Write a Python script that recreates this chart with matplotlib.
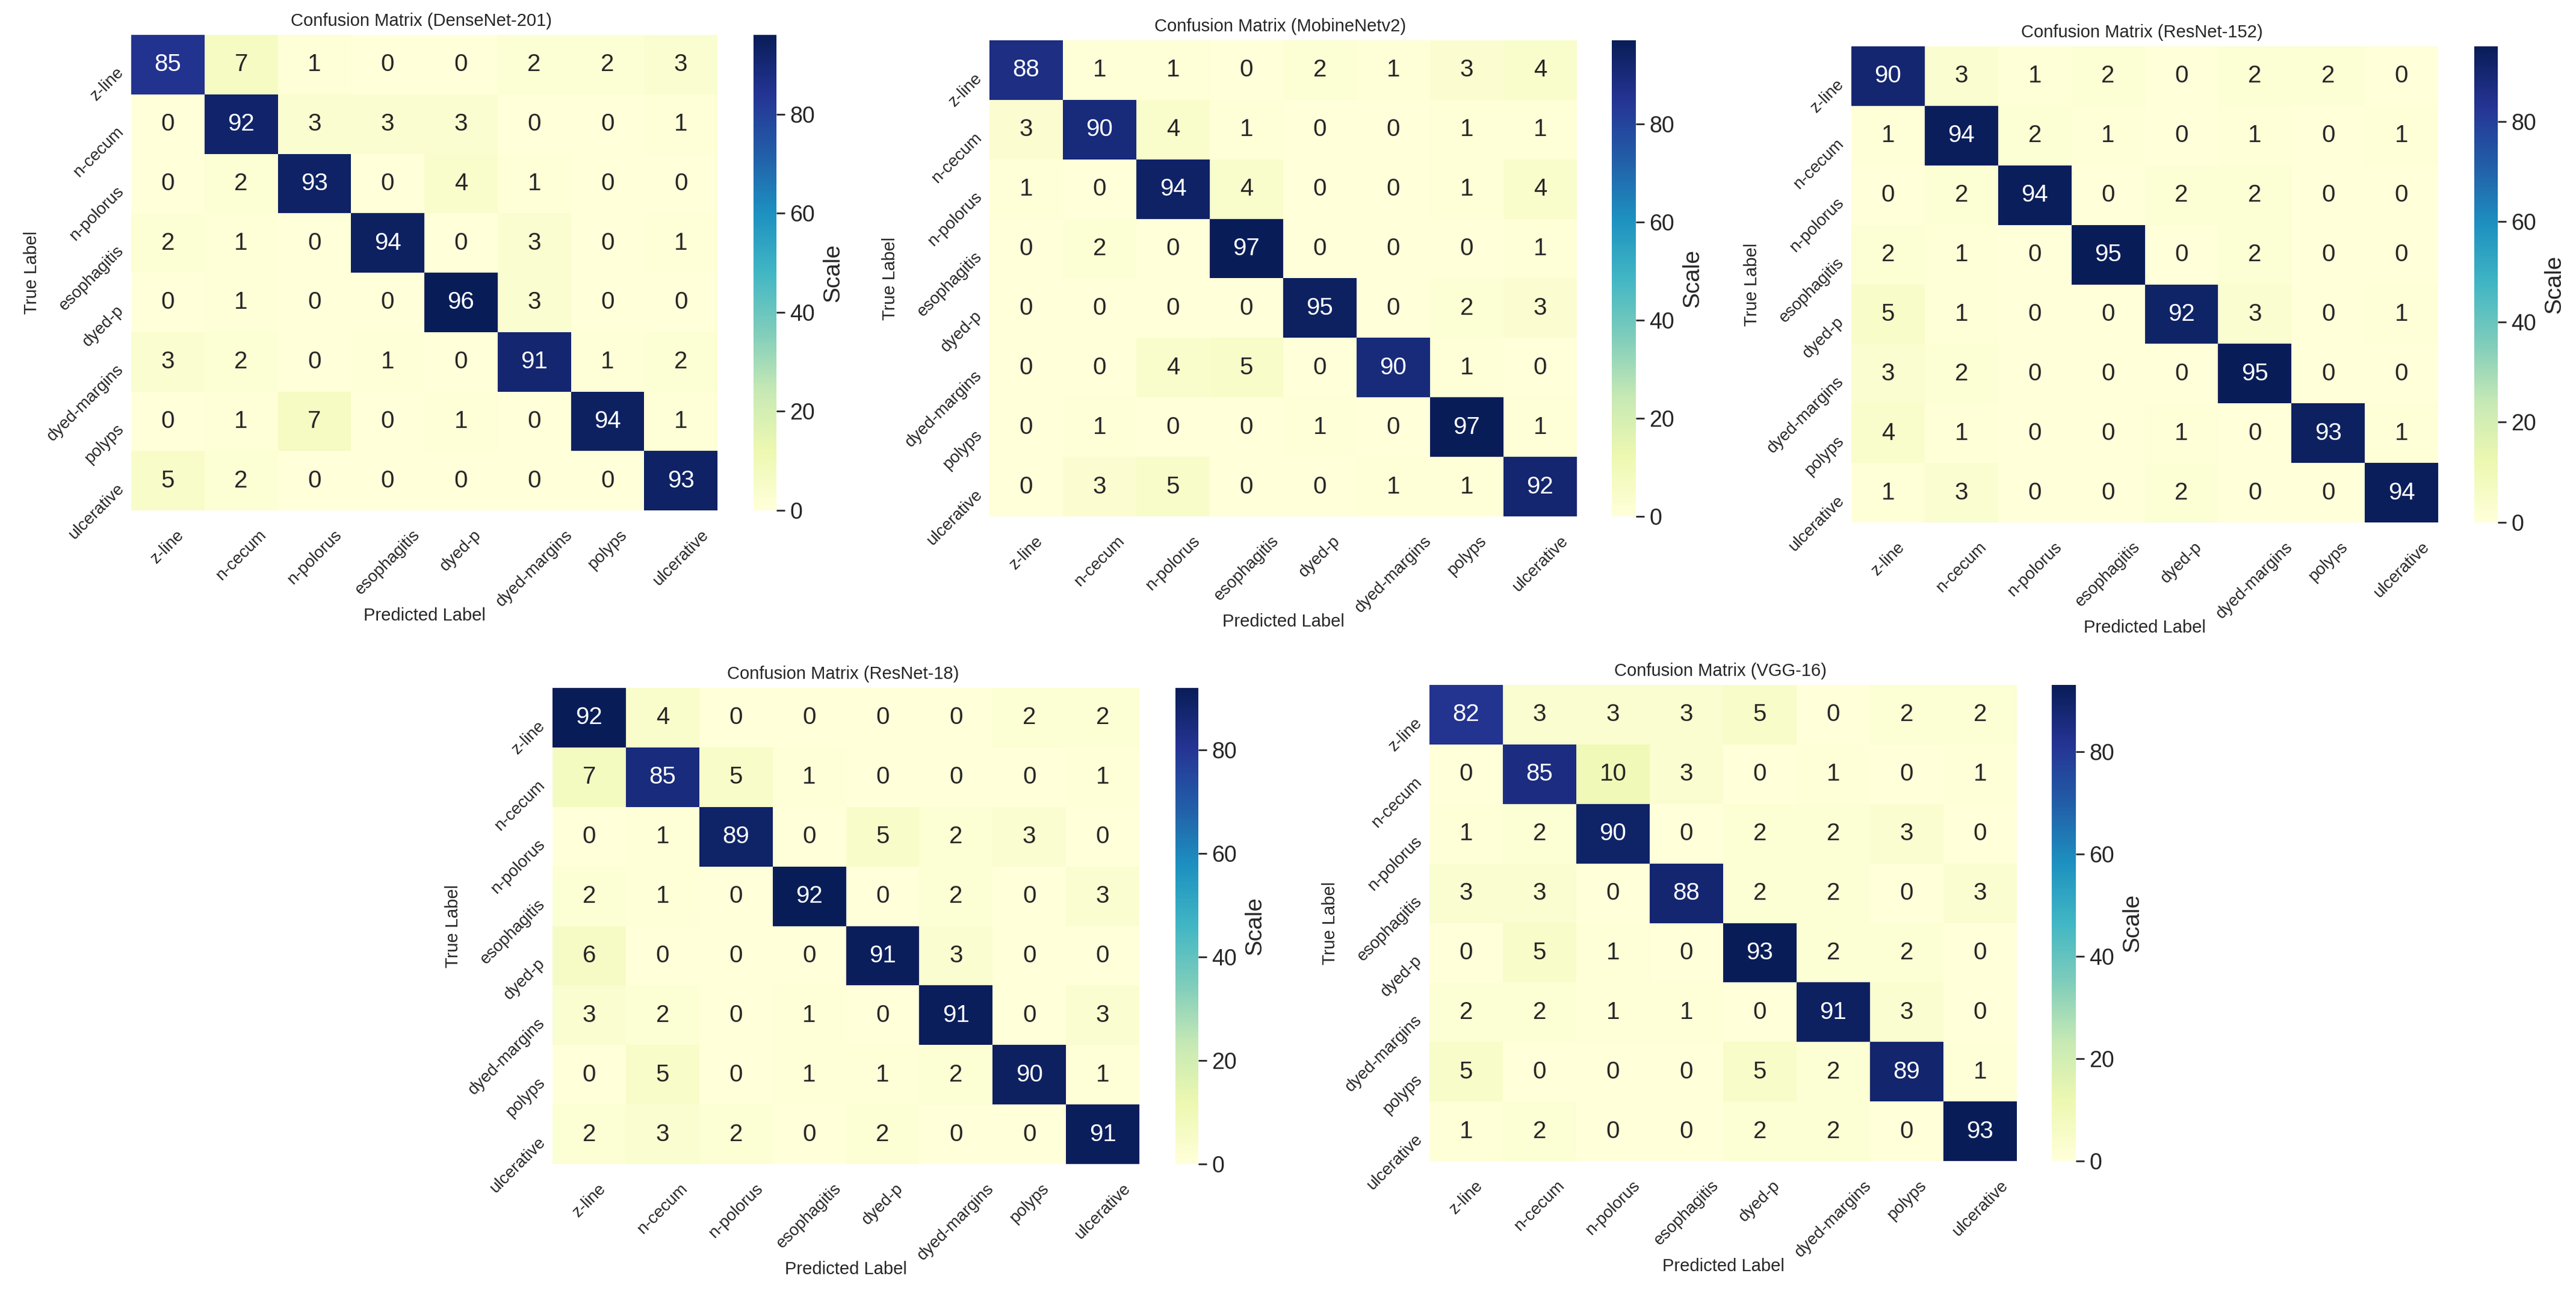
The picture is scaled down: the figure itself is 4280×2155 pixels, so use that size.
import numpy as np
import matplotlib
matplotlib.use('Agg')
from matplotlib import pyplot as plt
import seaborn as sns

plt.rcParams['font.family'] = ['Liberation Sans', 'DejaVu Sans']
plt.rcParams['text.color'] = '#262626'
plt.rcParams['axes.labelcolor'] = '#262626'
plt.rcParams['xtick.color'] = '#262626'
plt.rcParams['ytick.color'] = '#262626'

class_names = ["z-line", "n-cecum", "n-polorus", "esophagitis", "dyed-p", "dyed-margins", "polyps", "ulcerative"]

densenet201 = [[85, 7, 1, 0, 0, 2, 2, 3],
               [0, 92, 3, 3, 3, 0, 0, 1],
               [0, 2, 93, 0, 4, 1, 0, 0],
               [2, 1, 0, 94, 0, 3, 0, 1],
               [0, 1, 0, 0, 96, 3, 0, 0],
               [3, 2, 0, 1, 0, 91, 1, 2],
               [0, 1, 7, 0, 1, 0, 94, 1],
               [5, 2, 0, 0, 0, 0, 0, 93]]

mobilenetv2 = [[88, 1, 1, 0, 2, 1, 3, 4],
               [3, 90, 4, 1, 0, 0, 1, 1],
               [1, 0, 94, 4, 0, 0, 1, 4],
               [0, 2, 0, 97, 0, 0, 0, 1],
               [0, 0, 0, 0, 95, 0, 2, 3],
               [0, 0, 4, 5, 0, 90, 1, 0],
               [0, 1, 0, 0, 1, 0, 97, 1],
               [0, 3, 5, 0, 0, 1, 1, 92]]

resnet152 = [[90, 3, 1, 2, 0, 2, 2, 0],
             [1, 94, 2, 1, 0, 1, 0, 1],
             [0, 2, 94, 0, 2, 2, 0, 0],
             [2, 1, 0, 95, 0, 2, 0, 0],
             [5, 1, 0, 0, 92, 3, 0, 1],
             [3, 2, 0, 0, 0, 95, 0, 0],
             [4, 1, 0, 0, 1, 0, 93, 1],
             [1, 3, 0, 0, 2, 0, 0, 94]]

resnet18 = [[92, 4, 0, 0, 0, 0, 2, 2],
            [7, 85, 5, 1, 0, 0, 0, 1],
            [0, 1, 89, 0, 5, 2, 3, 0],
            [2, 1, 0, 92, 0, 2, 0, 3],
            [6, 0, 0, 0, 91, 3, 0, 0],
            [3, 2, 0, 1, 0, 91, 0, 3],
            [0, 5, 0, 1, 1, 2, 90, 1],
            [2, 3, 2, 0, 2, 0, 0, 91]]

vgg16 = [[82, 3, 3, 3, 5, 0, 2, 2],
         [0, 85, 10, 3, 0, 1, 0, 1],
         [1, 2, 90, 0, 2, 2, 3, 0],
         [3, 3, 0, 88, 2, 2, 0, 3],
         [0, 5, 1, 0, 93, 2, 2, 0],
         [2, 2, 1, 1, 0, 91, 3, 0],
         [5, 0, 0, 0, 5, 2, 89, 1],
         [1, 2, 0, 0, 2, 2, 0, 93]]

W, H = 4280, 2155
fig = plt.figure(figsize=(W / 100, H / 100), dpi=100, facecolor='white')


def add_box(left, top, right, bottom):
    # pixel box of the reference -> figure fractions
    return fig.add_axes([left / W, 1 - bottom / H, (right - left) / W, (bottom - top) / H])


def draw_matrix(matrix, name, box, cbar_x):
    ax = add_box(*box)
    cax = add_box(cbar_x[0], box[1], cbar_x[1], box[3])
    sns.heatmap(np.array(matrix), ax=ax, cbar_ax=cax, cmap="YlGnBu", annot=True, fmt="d",
                annot_kws={"fontsize": 29}, xticklabels=class_names, yticklabels=class_names)
    ax.set_title(f"Confusion Matrix ({name})", fontsize=21, pad=11, x=0.495)
    ax.set_xlabel("Predicted Label", fontsize=21, labelpad=-3)
    ax.set_ylabel("True Label", fontsize=21, labelpad=5)
    ax.tick_params(axis='x', length=0, pad=20, labelsize=20)
    ax.tick_params(axis='y', length=0, pad=5, labelsize=20)
    plt.setp(ax.get_xticklabels(), rotation=45, ha='center')
    plt.setp(ax.get_yticklabels(), rotation=45, ha='right', va='top')
    cax.tick_params(labelsize=27, length=10, width=2, pad=6)
    cax.set_yticks([0, 20, 40, 60, 80])
    cax.set_ylabel("Scale", fontsize=28, labelpad=9)
    for spine in cax.spines.values():
        spine.set_visible(False)


draw_matrix(densenet201, "DenseNet-201", (218, 58, 1192, 848), (1252, 1290))
draw_matrix(mobilenetv2, "MobineNetv2", (1644, 67, 2620, 858), (2678, 2718))
draw_matrix(resnet152, "ResNet-152", (3076, 77, 4051, 868), (4111, 4150))
draw_matrix(resnet18, "ResNet-18", (918, 1143, 1893, 1934), (1953, 1991))
draw_matrix(vgg16, "VGG-16", (2375, 1138, 3351, 1929), (3409, 3449))

plt.savefig("out.png", dpi=100)
